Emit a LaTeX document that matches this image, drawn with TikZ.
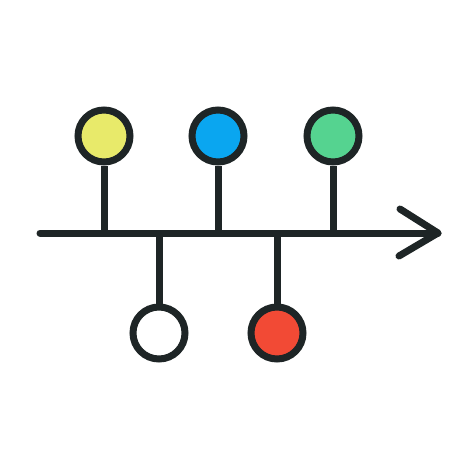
\documentclass[tikz,border=0pt]{standalone}
\definecolor{ink}{HTML}{1E2526}
\definecolor{cyellow}{HTML}{E8EA6A}
\definecolor{cblue}{HTML}{0AA6F0}
\definecolor{cgreen}{HTML}{55D390}
\definecolor{cred}{HTML}{F24A35}
\begin{document}
\begin{tikzpicture}[x=1pt,y=-1pt,
  dot/.style={circle,draw=ink,line width=7pt,minimum size=52pt,inner sep=0pt},
  stroke/.style={draw=ink,line width=7pt}]
\useasboundingbox[fill=white] (0,0) rectangle (474,474);
% main axis
\coordinate (start) at (40,233);
\coordinate (tip) at (438,233);
\coordinate (ta) at (400,209);
\coordinate (tb) at (399,256);
\draw[stroke,line cap=round] (start) -- (tip);
\draw[stroke,line cap=round,line join=round] (ta) -- (tip) -- (tb);
% points on axis
\coordinate (p1) at (104,233);
\coordinate (p2) at (218,233);
\coordinate (p3) at (333,233);
\coordinate (q1) at (159,233);
\coordinate (q2) at (277,233);
% circles
\node[dot,fill=cyellow] (c1) at (104,136) {};
\node[dot,fill=cblue] (c2) at (218,136) {};
\node[dot,fill=cgreen] (c3) at (333,136) {};
\node[dot,fill=white] (d1) at (159,333) {};
\node[dot,fill=cred] (d2) at (277,333) {};
% stems
\draw[stroke] (c1.south) -- (p1);
\draw[stroke] (c2.south) -- (p2);
\draw[stroke] (c3.south) -- (p3);
\draw[stroke] (q1) -- (d1.north);
\draw[stroke] (q2) -- (d2.north);
\end{tikzpicture}
\end{document}
